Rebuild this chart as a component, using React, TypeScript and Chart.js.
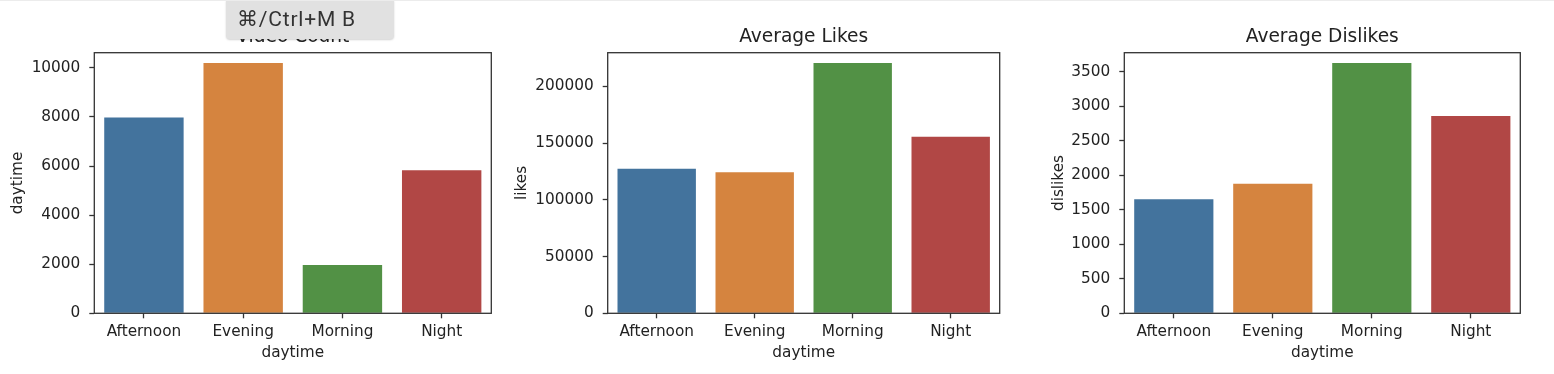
import React, { useEffect, useRef } from "react";
import { Chart, registerables } from "chart.js";

Chart.register(...registerables);

const categories = ["Afternoon", "Evening", "Morning", "Night"];
const videoCount = [7980, 10200, 1970, 5830];
const avgLikes = [127400, 124200, 220500, 155600];
const avgDislikes = [1651, 1878, 3626, 2858];

const countTicks = [0, 2000, 4000, 6000, 8000, 10000];
const likesTicks = [0, 50000, 100000, 150000, 200000];
const dislikesTicks = [0, 500, 1000, 1500, 2000, 2500, 3000, 3500];

const barColors = ["#43739d", "#d5843f", "#529145", "#b14745"];
const FONT = "'DejaVu Sans', Verdana, sans-serif";
const TEXT = "#222";
const TICK_SIZE = 15.3;
const TITLE_SIZE = 18.6;

type PanelProps = {
  x: number;
  width: number;
  plotLeft: number;
  rightPad: number;
  title: string;
  yLabel: string;
  yLabelPad: number;
  values: number[];
  ticks: number[];
  yMax: number;
};

function Panel(p: PanelProps) {
  const ref = useRef<HTMLCanvasElement | null>(null);
  useEffect(() => {
    if (!ref.current) return;
    const framePlugin = {
      id: "frame",
      afterDatasetsDraw(chart: any) {
        const { ctx, chartArea } = chart;
        ctx.save();
        ctx.strokeStyle = "#333";
        ctx.lineWidth = 1.3;
        ctx.strokeRect(
          chartArea.left,
          chartArea.top,
          chartArea.right - chartArea.left,
          chartArea.bottom - chartArea.top
        );
        ctx.fillStyle = TEXT;
        ctx.font = `${TITLE_SIZE}px ${FONT}`;
        ctx.textAlign = "center";
        ctx.textBaseline = "alphabetic";
        ctx.fillText(p.title, (chartArea.left + chartArea.right) / 2, 41);
        ctx.restore();
      },
    };
    const chart = new Chart(ref.current, {
      type: "bar",
      data: {
        labels: categories,
        datasets: [
          {
            data: p.values,
            backgroundColor: barColors,
            borderWidth: 0,
            barPercentage: 0.8,
            categoryPercentage: 1,
          },
        ],
      },
      options: {
        responsive: false,
        maintainAspectRatio: false,
        animation: false,
        devicePixelRatio: 1,
        layout: { padding: { top: 51.7, left: 0, bottom: 0, right: p.rightPad } },
        plugins: {
          legend: { display: false },
          tooltip: { enabled: false },
          title: { display: false },
        },
        scales: {
          x: {
            offset: true,
            grid: {
              display: true,
              offset: false,
              drawOnChartArea: false,
              drawTicks: true,
              tickLength: 5,
              tickColor: "#333",
              tickWidth: 1.3,
            },
            border: { display: false },
            ticks: {
              color: TEXT,
              font: { family: FONT, size: TICK_SIZE },
              padding: 5,
              maxRotation: 0,
              autoSkip: false,
            },
            title: {
              display: true,
              text: "daytime",
              color: TEXT,
              font: { family: FONT, size: TICK_SIZE },
              padding: { top: 0, bottom: 12.5 },
            },
            afterFit: (s: any) => {
              s.height = 61.7;
            },
          },
          y: {
            min: 0,
            max: p.yMax,
            grid: {
              display: true,
              drawOnChartArea: false,
              drawTicks: true,
              tickLength: 5,
              tickColor: "#333",
              tickWidth: 1.3,
            },
            border: { display: false },
            ticks: {
              color: TEXT,
              font: { family: FONT, size: TICK_SIZE },
              padding: 9,
              callback: (v: any) => String(v),
            },
            afterBuildTicks: (s: any) => {
              s.ticks = p.ticks.map((v) => ({ value: v }));
            },
            title: {
              display: true,
              text: p.yLabel,
              color: TEXT,
              font: { family: FONT, size: TICK_SIZE },
              padding: { top: p.yLabelPad, bottom: 0 },
            },
            afterFit: (s: any) => {
              s.width = p.plotLeft;
            },
          },
        },
      },
      plugins: [framePlugin],
    } as any);
    return () => chart.destroy();
  }, []);
  return (
    <canvas
      ref={ref}
      width={p.width}
      height={374}
      style={{ position: "absolute", left: p.x, top: 0, width: p.width, height: 374 }}
    />
  );
}

export default function App() {
  return (
    <div
      style={{
        position: "absolute",
        left: 0,
        top: 0,
        width: 1554,
        height: 374,
        background: "#fff",
        overflow: "hidden",
        borderTop: "1px solid #ececec",
        boxSizing: "border-box",
      }}
    >
      <Panel
        x={0}
        width={505}
        plotLeft={94.3}
        rightPad={13.7}
        title="Video Count"
        yLabel="daytime"
        yLabelPad={8.5}
        values={videoCount}
        ticks={countTicks}
        yMax={10620}
      />
      <Panel
        x={505}
        width={530}
        plotLeft={102.7}
        rightPad={35.3}
        title="Average Likes"
        yLabel="likes"
        yLabelPad={7.5}
        values={avgLikes}
        ticks={likesTicks}
        yMax={229600}
      />
      <Panel
        x={1035}
        width={519}
        plotLeft={89.3}
        rightPad={33.7}
        title="Average Dislikes"
        yLabel="dislikes"
        yLabelPad={14.4}
        values={avgDislikes}
        ticks={dislikesTicks}
        yMax={3775}
      />
      <div
        style={{
          position: "absolute",
          left: 226,
          top: -1,
          width: 168,
          height: 39,
          background: "#e1e1e1",
          borderRadius: "0 0 4px 4px",
          boxShadow: "0 1px 2px rgba(0,0,0,0.18)",
          fontFamily: "Roboto, 'DejaVu Sans', sans-serif",
          fontSize: 21,
          letterSpacing: 0.8,
          color: "#333",
          lineHeight: "38px",
          paddingLeft: 11,
          boxSizing: "border-box",
          whiteSpace: "nowrap",
        }}
      >
        ⌘/Ctrl+M B
      </div>
    </div>
  );
}
